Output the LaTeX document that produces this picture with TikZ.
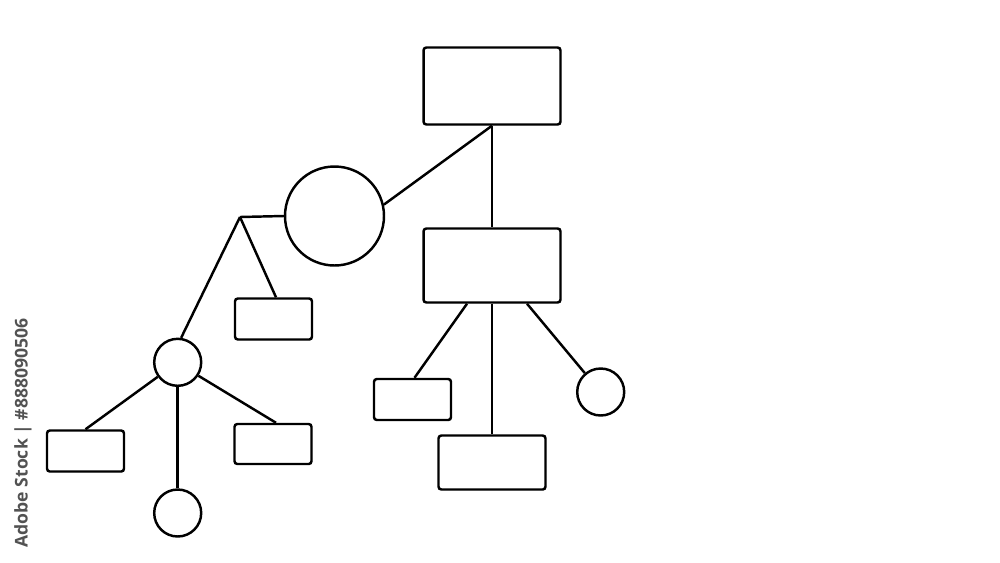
\documentclass[tikz,border=0pt]{standalone}
\usepackage{fontspec}
\newfontfamily\wmfont{Open Sans}
\usetikzlibrary{calc,shadows}
\begin{document}
\begin{tikzpicture}[x=0.02cm,y=-0.02cm,
  box/.style={draw=black, line width=1.4pt, rounded corners=1.6pt, fill=white, inner sep=0pt,
    drop shadow={shadow xshift=0.5pt, shadow yshift=-0.5pt, opacity=0.3, fill=black!60}},
  circ/.style={draw=black, line width=1.4pt, circle, fill=white, inner sep=0pt},
  conn/.style={line width=1.4pt, black}]
\useasboundingbox[fill=white] (0,0) rectangle (1000,562);
% boxes
\node[box, minimum width=2.74cm, minimum height=1.54cm] (t) at (492,86) {};
\node[box, minimum width=2.74cm, minimum height=1.48cm] (b2) at (492,265.5) {};
\node[box, minimum width=1.54cm, minimum height=0.82cm] (A) at (273.5,319) {};
\node[box, minimum width=1.54cm, minimum height=0.82cm] (L) at (85.5,451) {};
\node[box, minimum width=1.54cm, minimum height=0.80cm] (R) at (273,444) {};
\node[box, minimum width=1.54cm, minimum height=0.82cm] (B) at (412.5,399.5) {};
\node[box, minimum width=2.14cm, minimum height=1.08cm] (C) at (492,462.5) {};
% circles
\node[circ, minimum size=1.98cm] (c1) at (334.5,216) {};
\node[circ, minimum size=0.94cm] (s1) at (177.7,362.3) {};
\node[circ, minimum size=0.94cm] (s2) at (177.7,513) {};
\node[circ, minimum size=0.94cm] (r) at (600.7,392) {};
% junctions
\coordinate (j) at (240,217);
% connectors
\draw[conn] (t.south) -- (c1.13);
\draw[conn] (t.south) -- (b2.north);
\draw[conn] (c1.west) -- (j);
\draw[conn] (j) -- (s1.82);
\draw[conn] (j) -- ($(A.north)+(2.5,0)$);
\draw[conn] (s1.216) -- (L.north);
\draw[conn] (s1.-33) -- ($(R.north)+(3,0)$);
\draw[conn] (s1.south) -- (s2.north);
\draw[conn] ($(b2.south)+(-25,0)$) -- ($(B.north)+(2,0)$);
\draw[conn] (b2.south) -- (C.north);
\draw[conn] ($(b2.south)+(35,0)$) -- (r.130);
% vertical credit text
\node[rotate=90, text=black!68, font=\wmfont\bfseries\fontsize{10}{12}\selectfont, inner sep=0pt] (wm) at (23,433) {Adobe Stock | \#888090506};
\end{tikzpicture}
\end{document}
